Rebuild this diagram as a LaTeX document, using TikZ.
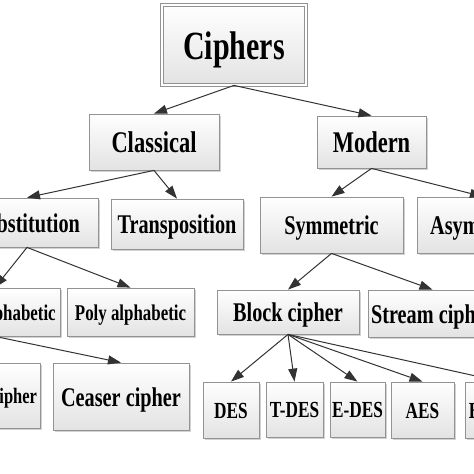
\documentclass[tikz,border=0pt]{standalone}
\usepackage{fontspec}
\setmainfont{Liberation Serif}[FakeStretch=0.75]
\usetikzlibrary{arrows.meta,shadows}

\begin{document}
\begin{tikzpicture}[y=-1pt,x=1pt,
	box/.style={draw=gray!85, line width=0.8pt, top color=white, bottom color=gray!22, drop shadow={shadow xshift=2pt, shadow yshift=-2pt, opacity=0.35, fill=gray}, inner sep=0pt},
	fs/.style={font=\bfseries\fontsize{#1}{#1}\selectfont, text height=#1*0.72pt, text depth=0pt},
	arr/.style={-{Triangle[length=13pt,width=9pt]}, draw=black!80, line width=1pt}]
	\useasboundingbox (0,0) rectangle (474,474);
	\clip (0,0) rectangle (474,474);
	\fill[white] (0,0) rectangle (474,474);

	\node[box, fs=40, double=white, double distance=2pt, minimum width=144pt, minimum height=80pt] (ciph) at (234,45) {Ciphers};

	\node[box, fs=30, minimum width=130pt, minimum height=56pt] (clas) at (154,142) {Classical};
	\node[box, fs=30, minimum width=109pt, minimum height=52pt] (mod) at (371.5,142) {Modern};

	\node[box, fs=27, minimum width=142pt, minimum height=49pt] (subs) at (27,222.5) {Substitution};
	\node[box, fs=27, minimum width=132pt, minimum height=50pt] (trans) at (177,224) {Transposition};
	\node[box, fs=27, minimum width=143pt, minimum height=56pt] (sym) at (331.5,225) {Symmetric};
	\node[box, fs=27, minimum width=132pt, minimum height=56pt] (asym) at (483,225) {Asymmetric};

	\node[box, fs=22.5, minimum width=130pt, minimum height=48pt] (mono) at (-5,312) {Mono alphabetic};
	\node[box, fs=22.5, minimum width=127pt, minimum height=48pt] (poly) at (130.5,312) {Poly alphabetic};
	\node[box, fs=27, minimum width=142pt, minimum height=44pt] (block) at (288,312) {Block cipher};
	\node[box, fs=27, minimum width=129pt, minimum height=47pt] (stream) at (432.5,313.5) {Stream cipher};

	\node[box, fs=22, minimum width=99pt, minimum height=65pt] (affine) at (-9.5,395.5) {Affine cipher};
	\node[box, fs=27, minimum width=136pt, minimum height=67pt] (ceaser) at (121,396.5) {Ceaser cipher};
	\node[box, fs=23, minimum width=56pt, minimum height=56pt] (des) at (231,410) {DES};
	\node[box, fs=23, minimum width=57pt, minimum height=55pt] (tdes) at (294.5,409.5) {T-DES};
	\node[box, fs=23, minimum width=55pt, minimum height=55pt] (edes) at (357.5,409.5) {E-DES};
	\node[box, fs=23, minimum width=63pt, minimum height=56pt] (aes) at (422.5,410) {AES};
	\node[box, fs=23, minimum width=72pt, minimum height=56pt] (blow) at (501,410) {Blowfish};

	\draw[arr] (ciph.south) -- (clas.north);
	\draw[arr] (ciph.south) -- (mod.north);
	\draw[arr] (clas.south) -- (subs.north);
	\draw[arr] (clas.south) -- (trans.north);
	\draw[arr] (mod.south) -- (sym.north);
	\draw[arr] (mod.south) -- (asym.north);
	\draw[arr] (subs.south) -- (mono.north);
	\draw[arr] (subs.south) -- (poly.north);
	\draw[arr] (sym.south) -- (block.north);
	\draw[arr] (sym.south) -- (stream.north);
	\draw[arr] (mono.south) -- (ceaser.north);
	\draw[arr] (block.south) -- (des.north);
	\draw[arr] (block.south) -- (tdes.north);
	\draw[arr] (block.south) -- (edes.north);
	\draw[arr] (block.south) -- (aes.north);
	\draw[arr] (block.south) -- (blow.north);
\end{tikzpicture}
\end{document}
